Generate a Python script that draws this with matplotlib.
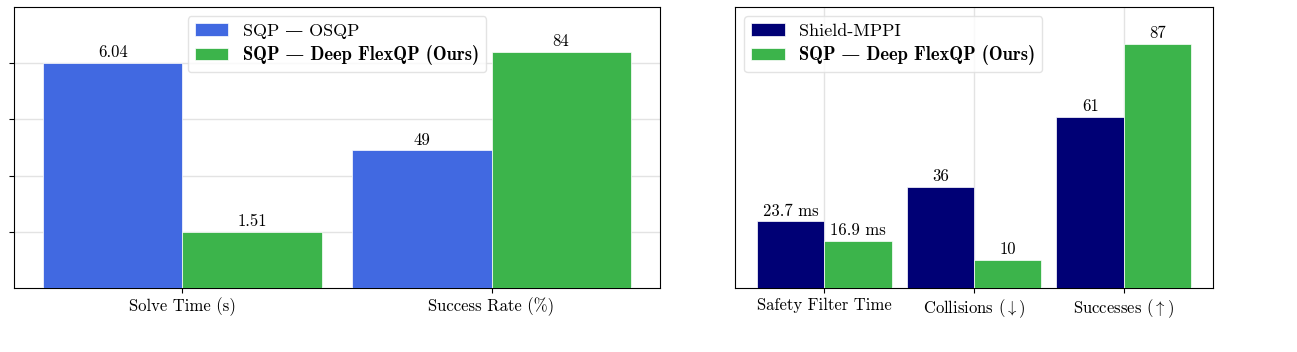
import matplotlib
matplotlib.use("Agg")
import numpy as np
import matplotlib.pyplot as plt

plt.rcParams["font.family"] = ["cmr10", "DejaVu Serif"]
plt.rcParams["mathtext.fontset"] = "cm"
plt.rcParams["axes.formatter.use_mathtext"] = True

# left panel: QP solver comparison
left_groups = ["Solve Time (s)", "Success Rate (%)"]
osqp_vals = [6.04, 49]
flexqp_vals = [1.51, 84]
left_scale = [1.51, 20]  # per-group normalisation used for bar heights
left_labels_osqp = ["6.04", "49"]
left_labels_flex = ["1.51", "84"]

# right panel: safety filter comparison
right_groups = ["Safety Filter Time", r"Collisions ($\downarrow$)", r"Successes ($\uparrow$)"]
mppi_vals = [23.7, 36, 61]
flex_vals = [16.9, 10, 87]
right_labels_mppi = ["23.7 ms", "36", "61"]
right_labels_flex = ["16.9 ms", "10", "87"]

BLUE = "#4169E1"
GREEN = "#3cb44b"
NAVY = "#000075"
FS = 12
LFS = 13
w = 0.45

fig = plt.figure(figsize=(12.97, 3.52), dpi=100)
ax1 = fig.add_axes([14 / 1297, 64 / 352, 646 / 1297, 281 / 352])
ax2 = fig.add_axes([735 / 1297, 64 / 352, 478 / 1297, 281 / 352])

bold = dict(family=["cmb10", "DejaVu Serif"], size=13.3)

# left
x = np.arange(len(left_groups))
h1 = np.array(osqp_vals) / np.array(left_scale)
h2 = np.array(flexqp_vals) / np.array(left_scale)
b1 = ax1.bar(x - w / 2, h1, w, color=BLUE, edgecolor="white", linewidth=0.5,
             label="SQP — OSQP", zorder=3)
b2 = ax1.bar(x + w / 2, h2, w, color=GREEN, edgecolor="white", linewidth=0.5,
             label="SQP — Deep FlexQP (Ours)", zorder=3)
ax1.bar_label(b1, labels=left_labels_osqp, padding=2, fontsize=FS)
ax1.bar_label(b2, labels=left_labels_flex, padding=2, fontsize=FS)
ax1.set_xticks(x)
ax1.set_xticklabels(left_groups, fontsize=FS)
ax1.set_ylim(0, 5.0)
ax1.set_yticks([1, 2, 3, 4])
ax1.set_yticklabels([])
ax1.grid(axis="y", color="#e3e3e3", linewidth=1, zorder=0)
leg1 = ax1.legend(loc="upper center", fontsize=LFS, framealpha=0.8, edgecolor="#dddddd",
                  handlelength=1.85, labelspacing=0.35)
leg1.get_texts()[1].set_fontproperties(bold)

# right
x2 = np.arange(len(right_groups))
c1 = ax2.bar(x2 - w / 2, mppi_vals, w, color=NAVY, edgecolor="white", linewidth=0.5,
             label="Shield-MPPI", zorder=3)
c2 = ax2.bar(x2 + w / 2, flex_vals, w, color=GREEN, edgecolor="white", linewidth=0.5,
             label="SQP — Deep FlexQP (Ours)", zorder=3)
ax2.bar_label(c1, labels=right_labels_mppi, padding=2, fontsize=FS)
ax2.bar_label(c2, labels=right_labels_flex, padding=2, fontsize=FS)
ax2.set_xticks(x2)
ax2.set_xticklabels(right_groups, fontsize=FS)
ax2.set_ylim(0, 100)
ax2.set_yticks([])
ax2.grid(axis="x", color="#e3e3e3", linewidth=1, zorder=0)
leg2 = ax2.legend(loc="upper left", fontsize=LFS, framealpha=0.8, edgecolor="#dddddd",
                  handlelength=1.85, labelspacing=0.35)
leg2.get_texts()[1].set_fontproperties(bold)

for ax in (ax1, ax2):
    ax.set_axisbelow(True)

fig.savefig("out.png", dpi=100)
